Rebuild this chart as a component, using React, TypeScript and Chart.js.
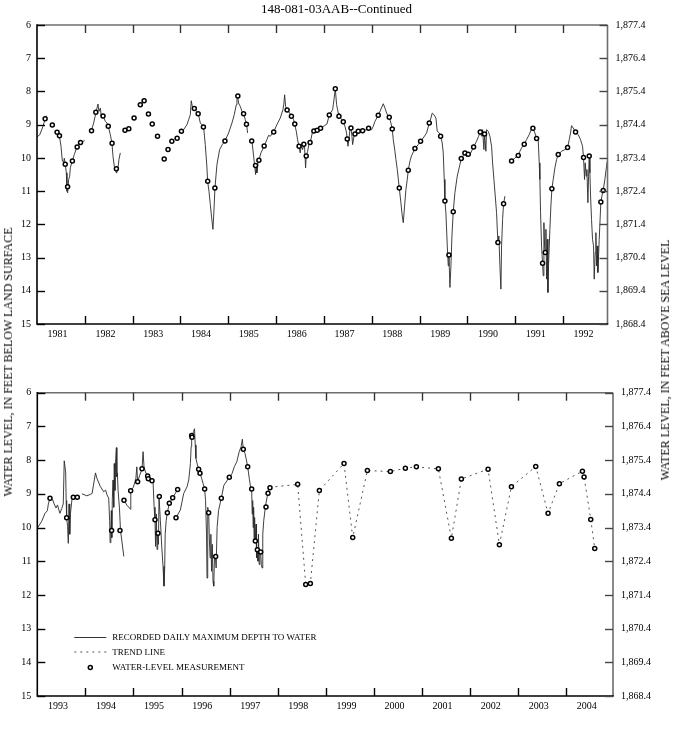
import React, { useEffect, useRef } from 'react';
import { Chart, registerables } from 'chart.js';
Chart.register(...registerables);

type P = [number, number];

// ---------- Top panel (1981-1992): recorded daily maximum depth to water ----------
const recTop1981a: P[] = [[1981.0, 9.37], [1981.06, 9.3], [1981.125, 9.05], [1981.17, 8.82], [1981.195, 8.73]];
const recTop1981b: P[] = [[1981.467, 9.33], [1981.502, 9.65], [1981.53, 10.1], [1981.557, 10.13], [1981.571, 10.01], [1981.592, 10.19], [1981.613, 10.45], [1981.627, 11.0], [1981.641, 11.05], [1981.662, 10.65], [1981.683, 10.55], [1981.697, 10.3], [1981.725, 10.15], [1981.739, 10.09], [1981.78, 9.9], [1981.836, 9.67], [1981.871, 9.6], [1981.913, 9.54], [1981.997, 9.48]];
const recTop1982: P[] = [[1982.136, 9.18], [1982.185, 8.95], [1982.233, 8.63], [1982.275, 8.38], [1982.296, 8.6], [1982.324, 8.5], [1982.345, 8.75], [1982.38, 8.74], [1982.429, 8.9], [1982.463, 8.95], [1982.491, 9.05], [1982.533, 9.3], [1982.568, 9.56], [1982.589, 9.95], [1982.617, 10.25], [1982.638, 10.35], [1982.659, 10.45], [1982.672, 10.33], [1982.693, 10.3], [1982.714, 10.05], [1982.742, 9.85]];
const recTop1984: P[] = [[1984.066, 9.15], [1984.136, 9.0], [1984.171, 8.85], [1984.206, 8.7], [1984.226, 8.28], [1984.247, 8.45], [1984.289, 8.51], [1984.331, 8.6], [1984.373, 8.67], [1984.415, 8.95], [1984.449, 9.0], [1984.484, 9.07], [1984.519, 9.6], [1984.554, 10.3], [1984.568, 10.7], [1984.596, 11.0], [1984.624, 11.4], [1984.652, 11.8], [1984.679, 12.15], [1984.7, 11.6], [1984.721, 10.91], [1984.763, 10.2], [1984.819, 9.75], [1984.875, 9.6], [1984.93, 9.49], [1985.007, 9.25], [1985.077, 8.95], [1985.125, 8.7], [1985.167, 8.4], [1985.181, 8.25], [1985.195, 8.14], [1985.216, 8.35], [1985.251, 8.45], [1985.286, 8.6], [1985.321, 8.67], [1985.355, 8.85], [1985.383, 8.99], [1985.404, 9.25]];
const recTop1985: P[] = [[1985.46, 9.45], [1985.495, 9.49], [1985.53, 9.95], [1985.557, 10.3], [1985.571, 10.5], [1985.585, 10.2], [1985.599, 10.45], [1985.62, 10.15], [1985.641, 10.07], [1985.683, 9.85], [1985.753, 9.64], [1985.808, 9.45], [1985.843, 9.32], [1985.878, 9.35], [1985.913, 9.28], [1985.948, 9.22], [1986.017, 9.0], [1986.087, 8.8], [1986.143, 8.55], [1986.164, 8.35], [1986.178, 8.1], [1986.199, 8.45], [1986.233, 8.56], [1986.282, 8.65], [1986.324, 8.75], [1986.366, 8.85], [1986.387, 8.98], [1986.422, 9.2], [1986.449, 9.45], [1986.477, 9.65], [1986.505, 9.85], [1986.526, 9.6], [1986.554, 9.75], [1986.582, 9.59], [1986.596, 9.7], [1986.617, 10.3], [1986.631, 9.94], [1986.659, 9.8], [1986.686, 9.6], [1986.714, 9.54], [1986.756, 9.25], [1986.791, 9.19], [1986.861, 9.17], [1986.93, 9.11], [1986.993, 9.05], [1987.063, 8.98]];
const recTop1987: P[] = [[1987.112, 8.71], [1987.182, 8.55], [1987.21, 8.25], [1987.238, 7.92], [1987.265, 8.4], [1987.3, 8.65], [1987.314, 8.75], [1987.349, 8.8], [1987.37, 8.85], [1987.405, 8.91], [1987.44, 9.05], [1987.474, 9.25], [1987.502, 9.65], [1987.523, 9.45], [1987.544, 9.15], [1987.565, 9.1], [1987.586, 9.35], [1987.6, 9.6], [1987.628, 9.35], [1987.649, 9.28], [1987.684, 9.22], [1987.718, 9.2], [1987.809, 9.18], [1987.893, 9.15], [1987.934, 9.11], [1987.997, 9.15], [1988.032, 9.05], [1988.067, 8.9], [1988.136, 8.72], [1988.241, 8.37], [1988.276, 8.5], [1988.311, 8.65], [1988.346, 8.75], [1988.366, 8.78], [1988.401, 8.95], [1988.429, 9.13], [1988.45, 9.45], [1988.485, 9.8], [1988.506, 10.05], [1988.534, 10.35], [1988.576, 10.91], [1988.61, 11.35], [1988.638, 11.75], [1988.659, 11.95], [1988.687, 11.45], [1988.715, 10.95], [1988.743, 10.65], [1988.764, 10.37], [1988.799, 10.1], [1988.833, 9.93], [1988.903, 9.72], [1988.973, 9.6]];
const recTop1989: P[] = [[1989.021, 9.5], [1989.077, 9.4], [1989.147, 9.25], [1989.203, 8.95], [1989.238, 8.8], [1989.265, 8.65], [1989.3, 8.7], [1989.342, 8.8], [1989.37, 9.2], [1989.412, 9.25], [1989.44, 9.35], [1989.474, 9.55], [1989.495, 9.85], [1989.516, 10.65], [1989.53, 11.3], [1989.551, 11.65], [1989.579, 12.65], [1989.6, 13.25], [1989.614, 12.92], [1989.635, 13.9], [1989.656, 13.25], [1989.677, 12.35], [1989.704, 11.62], [1989.739, 11.05], [1989.788, 10.55], [1989.844, 10.2], [1989.872, 10.02], [1989.914, 9.93], [1989.948, 9.85], [1989.983, 9.97]];
const recTop1990: P[] = [[1990.018, 9.89], [1990.053, 9.9], [1990.13, 9.67], [1990.192, 9.5], [1990.234, 9.35], [1990.269, 9.22], [1990.297, 9.35], [1990.318, 9.15], [1990.346, 9.75], [1990.359, 9.28], [1990.387, 9.8], [1990.401, 9.15], [1990.436, 9.2], [1990.471, 9.35], [1990.506, 9.65], [1990.527, 10.15], [1990.555, 10.65], [1990.583, 11.15], [1990.61, 11.65], [1990.638, 12.55], [1990.659, 12.35], [1990.68, 13.25], [1990.701, 13.95], [1990.715, 12.65], [1990.736, 11.85], [1990.757, 11.38], [1990.785, 11.15]];
const recTop1991: P[] = [[1990.889, 10.07], [1990.924, 10.09], [1990.959, 10.05], [1990.994, 10.0], [1991.063, 9.93], [1991.098, 9.8], [1991.133, 9.7], [1991.189, 9.59], [1991.237, 9.45], [1991.293, 9.3], [1991.335, 9.15], [1991.37, 9.11], [1991.412, 9.25], [1991.447, 9.42], [1991.481, 9.45], [1991.502, 10.15], [1991.516, 10.65], [1991.53, 11.65], [1991.551, 12.65], [1991.572, 13.17], [1991.586, 13.55], [1991.6, 11.95], [1991.614, 12.65], [1991.628, 12.85], [1991.642, 12.15], [1991.656, 13.65], [1991.67, 12.45], [1991.684, 14.05], [1991.697, 13.25], [1991.725, 12.15], [1991.746, 11.45], [1991.767, 10.93], [1991.795, 10.65], [1991.83, 10.3], [1991.865, 10.05], [1991.9, 9.9], [1991.969, 9.8]];
const recTop1992: P[] = [[1992.039, 9.75], [1992.095, 9.69], [1992.13, 9.45], [1992.157, 9.25], [1992.178, 9.03], [1992.213, 9.1], [1992.262, 9.22], [1992.318, 9.3], [1992.366, 9.45], [1992.408, 9.65], [1992.429, 9.99], [1992.45, 10.65], [1992.464, 10.15], [1992.485, 10.55], [1992.499, 10.35], [1992.52, 11.35], [1992.534, 10.55], [1992.548, 9.94], [1992.562, 10.45], [1992.576, 11.15], [1992.596, 11.85], [1992.617, 12.45], [1992.638, 12.65], [1992.652, 13.65], [1992.673, 12.85], [1992.687, 12.25], [1992.701, 13.25], [1992.715, 12.65], [1992.729, 13.45], [1992.757, 12.45], [1992.791, 11.33], [1992.826, 11.05], [1992.84, 10.98], [1992.875, 10.65], [1992.924, 10.1]];

// Top panel: water-level measurements
const measTop1981to1986: P[] = [[1981.17, 8.82], [1981.32, 9.01], [1981.42, 9.23], [1981.47, 9.33], [1981.59, 10.19], [1981.64, 10.87], [1981.74, 10.09], [1981.84, 9.67], [1981.91, 9.54], [1982.14, 9.18], [1982.23, 8.63], [1982.38, 8.74], [1982.49, 9.05], [1982.57, 9.56], [1982.66, 10.33], [1982.84, 9.17], [1982.92, 9.12], [1983.03, 8.8], [1983.16, 8.4], [1983.24, 8.28], [1983.33, 8.68], [1983.41, 8.98], [1983.52, 9.35], [1983.66, 10.03], [1983.74, 9.75], [1983.82, 9.5], [1983.93, 9.41], [1984.02, 9.2], [1984.29, 8.51], [1984.37, 8.67], [1984.48, 9.07], [1984.57, 10.7], [1984.72, 10.91], [1984.93, 9.49], [1985.2, 8.14], [1985.32, 8.67], [1985.38, 8.99], [1985.49, 9.49], [1985.57, 10.23], [1985.64, 10.07], [1985.75, 9.64], [1985.95, 9.22], [1986.23, 8.56], [1986.32, 8.75], [1986.39, 8.98], [1986.48, 9.65], [1986.58, 9.59], [1986.63, 9.94], [1986.71, 9.54], [1986.79, 9.19], [1986.86, 9.17], [1986.93, 9.11]];
const measTop1987to1992: P[] = [[1987.112, 8.71], [1987.238, 7.92], [1987.314, 8.75], [1987.405, 8.91], [1987.488, 9.43], [1987.565, 9.1], [1987.649, 9.28], [1987.718, 9.2], [1987.809, 9.18], [1987.934, 9.11], [1988.136, 8.72], [1988.366, 8.78], [1988.429, 9.13], [1988.576, 10.91], [1988.764, 10.37], [1988.903, 9.72], [1989.021, 9.5], [1989.203, 8.95], [1989.44, 9.35], [1989.53, 11.3], [1989.614, 12.92], [1989.704, 11.62], [1989.872, 10.02], [1989.948, 9.85], [1990.018, 9.89], [1990.13, 9.67], [1990.269, 9.22], [1990.359, 9.28], [1990.638, 12.55], [1990.757, 11.38], [1990.924, 10.09], [1991.063, 9.93], [1991.189, 9.59], [1991.37, 9.11], [1991.447, 9.42], [1991.572, 13.17], [1991.628, 12.85], [1991.767, 10.93], [1991.9, 9.9], [1992.095, 9.69], [1992.262, 9.22], [1992.429, 9.99], [1992.548, 9.94], [1992.791, 11.33], [1992.84, 10.98]];

// ---------- Bottom panel (1993-2004) ----------
const recBot1993: P[] = [[1993.0, 10.02], [1993.09, 9.82], [1993.16, 9.58], [1993.21, 9.5], [1993.23, 9.3], [1993.264, 9.13], [1993.32, 9.18], [1993.35, 9.3], [1993.39, 9.42], [1993.42, 9.33], [1993.45, 9.48], [1993.47, 9.58], [1993.51, 9.43], [1993.54, 9.3], [1993.56, 8.02], [1993.59, 8.35], [1993.6, 9.2], [1993.61, 9.71], [1993.63, 9.97], [1993.645, 10.47], [1993.66, 9.3], [1993.675, 10.2], [1993.69, 9.58], [1993.72, 9.18], [1993.749, 9.1], [1993.832, 9.1], [1993.845, 9.08]];
const recBot1994: P[] = [[1993.93, 9.0], [1994.03, 9.06], [1994.1, 9.02], [1994.14, 8.99], [1994.21, 8.38], [1994.24, 8.54], [1994.31, 8.78], [1994.38, 8.94], [1994.42, 8.89], [1994.45, 9.03], [1994.485, 9.13], [1994.505, 9.8], [1994.515, 10.45], [1994.53, 10.07], [1994.54, 9.5], [1994.55, 10.3], [1994.56, 9.18], [1994.575, 8.59], [1994.59, 9.4], [1994.6, 8.1], [1994.615, 8.9], [1994.63, 7.95], [1994.645, 7.63], [1994.655, 8.5], [1994.665, 8.39], [1994.68, 8.89], [1994.71, 9.45], [1994.73, 10.08], [1994.8, 10.86]];
const recBot1995: P[] = [[1994.803, 9.19], [1994.87, 9.35], [1994.94, 9.46], [1994.945, 8.91], [1995.0, 8.8], [1995.05, 8.55], [1995.07, 8.2], [1995.087, 8.64], [1995.13, 8.45], [1995.178, 8.27], [1995.2, 7.75], [1995.22, 8.2], [1995.25, 8.35], [1995.28, 8.44], [1995.295, 8.47], [1995.309, 8.55], [1995.35, 8.62], [1995.386, 8.61], [1995.41, 8.7], [1995.43, 9.4], [1995.448, 9.77], [1995.46, 10.56], [1995.475, 9.6], [1995.49, 10.65], [1995.505, 10.17], [1995.52, 10.5], [1995.532, 9.08], [1995.56, 9.8], [1995.59, 10.6], [1995.615, 11.15], [1995.635, 11.74], [1995.65, 11.2], [1995.66, 10.2], [1995.68, 9.8], [1995.705, 9.56], [1995.746, 9.28], [1995.816, 9.12], [1995.919, 8.87]];
const recBot1996: P[] = [[1995.885, 9.71], [1995.976, 9.48], [1996.045, 8.99], [1996.115, 8.79], [1996.15, 8.59], [1996.185, 8.1], [1996.2, 7.6], [1996.211, 7.27], [1996.218, 7.32], [1996.25, 7.15], [1996.27, 7.07], [1996.285, 7.55], [1996.3, 7.95], [1996.34, 8.2], [1996.356, 8.27], [1996.384, 8.39], [1996.42, 8.55], [1996.45, 8.7], [1996.481, 8.86], [1996.5, 9.2], [1996.52, 10.2], [1996.53, 11.5], [1996.545, 9.4], [1996.565, 9.56], [1996.58, 10.4], [1996.595, 10.9], [1996.61, 10.2], [1996.625, 11.3], [1996.64, 10.5], [1996.655, 11.6], [1996.67, 11.74], [1996.685, 10.9], [1996.704, 10.86], [1996.72, 11.2], [1996.74, 10.0], [1996.77, 9.5], [1996.8, 9.3], [1996.828, 9.13], [1996.88, 8.75], [1996.994, 8.51]];
const recBot1997: P[] = [[1997.05, 8.4], [1997.1, 8.19], [1997.15, 8.05], [1997.2, 7.75], [1997.24, 7.6], [1997.265, 7.38], [1997.285, 7.68], [1997.32, 7.8], [1997.35, 8.0], [1997.376, 8.2], [1997.41, 8.55], [1997.44, 8.84], [1997.459, 8.86], [1997.47, 9.6], [1997.48, 9.2], [1997.49, 10.0], [1997.5, 9.4], [1997.51, 10.4], [1997.52, 9.7], [1997.535, 10.4], [1997.55, 9.9], [1997.56, 10.9], [1997.577, 10.66], [1997.59, 11.0], [1997.6, 10.2], [1997.615, 11.1], [1997.63, 10.74], [1997.646, 10.73], [1997.66, 11.1], [1997.675, 11.2], [1997.69, 10.2], [1997.71, 9.8], [1997.745, 9.38], [1997.78, 9.1], [1997.799, 8.98], [1997.83, 8.81]];

const trendBot: P[] = [[1997.83, 8.81], [1998.416, 8.72], [1998.583, 11.69], [1998.68, 11.66], [1998.867, 8.9], [1999.38, 8.1], [1999.561, 10.3], [1999.866, 8.31], [2000.344, 8.34], [2000.656, 8.24], [2000.885, 8.2], [2001.343, 8.26], [2001.613, 10.32], [2001.821, 8.56], [2002.376, 8.27], [2002.612, 10.51], [2002.862, 8.79], [2003.368, 8.19], [2003.624, 9.58], [2003.86, 8.7], [2004.339, 8.33], [2004.373, 8.5], [2004.512, 9.76], [2004.595, 10.62]];

const measBot1993to1997: P[] = [[1993.264, 9.13], [1993.61, 9.71], [1993.749, 9.1], [1993.832, 9.1], [1994.546, 10.09], [1994.72, 10.09], [1994.803, 9.19], [1994.942, 8.91], [1995.087, 8.64], [1995.178, 8.26], [1995.295, 8.47], [1995.309, 8.55], [1995.386, 8.61], [1995.448, 9.77], [1995.51, 10.17], [1995.538, 9.08], [1995.705, 9.56], [1995.746, 9.28], [1995.816, 9.12], [1995.885, 9.71], [1995.919, 8.87], [1996.211, 7.27], [1996.218, 7.32], [1996.356, 8.27], [1996.384, 8.39], [1996.481, 8.86], [1996.564, 9.56], [1996.71, 10.86], [1996.828, 9.13], [1996.994, 8.51], [1997.285, 7.68], [1997.376, 8.2], [1997.459, 8.86], [1997.535, 10.4], [1997.577, 10.66], [1997.646, 10.73], [1997.757, 9.39], [1997.799, 8.98], [1997.84, 8.82]];
const measBot1998to2004: P[] = [[1998.416, 8.72], [1998.583, 11.69], [1998.68, 11.66], [1998.867, 8.9], [1999.38, 8.1], [1999.561, 10.3], [1999.866, 8.31], [2000.344, 8.34], [2000.656, 8.24], [2000.885, 8.2], [2001.343, 8.26], [2001.613, 10.32], [2001.821, 8.56], [2002.376, 8.27], [2002.612, 10.51], [2002.862, 8.79], [2003.368, 8.19], [2003.624, 9.58], [2003.86, 8.7], [2004.339, 8.33], [2004.373, 8.5], [2004.512, 9.76], [2004.595, 10.62]];

// Axis ticks / labels
const topYears = [1981, 1982, 1983, 1984, 1985, 1986, 1987, 1988, 1989, 1990, 1991, 1992];
const bottomYears = [1993, 1994, 1995, 1996, 1997, 1998, 1999, 2000, 2001, 2002, 2003, 2004];
const depthTicks = [6, 7, 8, 9, 10, 11, 12, 13, 14, 15];
const elevationTicks = [1868.4, 1869.4, 1870.4, 1871.4, 1872.4, 1873.4, 1874.4, 1875.4, 1876.4, 1877.4];
const legendLabels = ['RECORDED DAILY MAXIMUM DEPTH TO WATER', 'TREND LINE', 'WATER-LEVEL MEASUREMENT'];
const titleText = '148-081-03AAB--Continued';

const FONT = "'Liberation Serif', 'Times New Roman', serif";

function joinSegments(segs: P[][]) {
  const out: { x: number; y: number | null }[] = [];
  segs.forEach((s, i) => {
    if (i > 0) {
      const prev = segs[i - 1][segs[i - 1].length - 1][0];
      out.push({ x: (prev + s[0][0]) / 2, y: null });
    }
    s.forEach(([x, y]) => out.push({ x, y }));
  });
  return out;
}
const toXY = (a: P[]) => a.map(([x, y]) => ({ x, y }));

interface PanelSpec {
  years: number[];
  xMin: number;
  xMax: number;
  recorded: P[][];
  trend?: P[];
  measured: P[];
  width: number;
  height: number;
  padTop: number;
  leftW: number;
  rightW: number;
  bottomH: number;
  legend: boolean;
}

function makeFramePlugin(spec: PanelSpec) {
  return {
    id: 'frame',
    afterDraw(chart: any) {
      const { ctx, chartArea } = chart;
      const { left, right, top, bottom } = chartArea;
      const xs = chart.scales.x;
      const ys = chart.scales.y;
      const seg = (x1: number, y1: number, x2: number, y2: number) => {
        ctx.beginPath();
        ctx.moveTo(x1, y1);
        ctx.lineTo(x2, y2);
        ctx.stroke();
      };
      ctx.save();
      ctx.lineWidth = 1.6;
      ctx.strokeStyle = '#6e6e6e';
      seg(left, top, right, top);
      seg(right, top, right, bottom);
      ctx.strokeStyle = '#000';
      seg(left, top - 0.8, left, bottom + 0.8);
      seg(left, bottom, right + 0.8, bottom);
      ctx.lineWidth = 1.4;
      spec.years.slice(1).forEach((yr) => {
        const px = Math.round(xs.getPixelForValue(yr)) + 0.5;
        ctx.strokeStyle = '#000';
        seg(px, bottom, px, bottom - 8);
        ctx.strokeStyle = '#333';
        seg(px, top, px, top + 8);
      });
      depthTicks.forEach((d) => {
        const py = Math.round(ys.getPixelForValue(d)) + 0.5;
        ctx.strokeStyle = '#000';
        seg(left, py, left + 8, py);
        ctx.strokeStyle = '#444';
        seg(right - 8, py, right, py);
      });
      if (spec.legend) {
        const lx0 = left + 37;
        const lx1 = left + 69;
        const tx = left + 75;
        const rows = [bottom - 58.5, bottom - 44, bottom - 28.5];
        ctx.lineWidth = 1;
        ctx.strokeStyle = '#333';
        seg(lx0, rows[0], lx1, rows[0]);
        ctx.setLineDash([2, 4]);
        ctx.strokeStyle = '#555';
        seg(lx0, rows[1], lx1, rows[1]);
        ctx.setLineDash([]);
        ctx.beginPath();
        ctx.arc(left + 53, rows[2], 2, 0, Math.PI * 2);
        ctx.fillStyle = '#fff';
        ctx.fill();
        ctx.lineWidth = 1.5;
        ctx.strokeStyle = '#000';
        ctx.stroke();
        ctx.fillStyle = '#000';
        ctx.font = `9px ${FONT}`;
        ctx.textBaseline = 'middle';
        ctx.textAlign = 'left';
        legendLabels.forEach((t, i) => ctx.fillText(t, tx, rows[i] + 0.5));
      }
      ctx.restore();
    },
  };
}

function makeConfig(spec: PanelSpec): any {
  const tickFont = { family: FONT, size: 10 };
  const datasets: any[] = [
    {
      data: joinSegments(spec.recorded),
      showLine: true,
      borderColor: '#2a2a2a',
      borderWidth: 0.9,
      pointRadius: 0,
      spanGaps: false,
      order: 3,
    },
  ];
  if (spec.trend) {
    datasets.push({
      data: toXY(spec.trend),
      showLine: true,
      borderColor: '#555',
      borderWidth: 1,
      borderDash: [2, 4],
      pointRadius: 0,
      order: 2,
    });
  }
  datasets.push({
    data: toXY(spec.measured),
    showLine: false,
    pointRadius: 2,
    pointBorderWidth: 1.5,
    pointBorderColor: '#000',
    pointBackgroundColor: '#fff',
    pointStyle: 'circle',
    order: 1,
  });
  return {
    type: 'scatter',
    data: { datasets },
    options: {
      animation: false,
      responsive: false,
      maintainAspectRatio: false,
      events: [],
      layout: { padding: { top: spec.padTop, left: 0, right: 0, bottom: 0 } },
      plugins: { legend: { display: false }, tooltip: { enabled: false }, title: { display: false } },
      scales: {
        x: {
          type: 'linear',
          position: 'bottom',
          min: spec.xMin,
          max: spec.xMax,
          grid: { display: false, drawTicks: false },
          border: { display: false },
          ticks: {
            font: tickFont,
            color: '#000',
            padding: 4,
            maxRotation: 0,
            autoSkip: false,
            callback: (v: number) => String(Math.floor(v)),
          },
          afterBuildTicks: (s: any) => {
            s.ticks = spec.years.map((y) => ({ value: y + 0.43 }));
          },
          afterFit: (s: any) => {
            s.height = spec.bottomH;
          },
        },
        y: {
          type: 'linear',
          position: 'left',
          reverse: true,
          min: 6,
          max: 15,
          grid: { display: false, drawTicks: false },
          border: { display: false },
          ticks: { font: tickFont, color: '#000', padding: 6, autoSkip: false, callback: (v: number) => String(v) },
          afterBuildTicks: (s: any) => {
            s.ticks = depthTicks.map((v) => ({ value: v }));
          },
          afterFit: (s: any) => {
            s.width = spec.leftW;
          },
        },
        y2: {
          type: 'linear',
          position: 'right',
          min: elevationTicks[0],
          max: elevationTicks[elevationTicks.length - 1],
          grid: { display: false, drawTicks: false },
          border: { display: false },
          ticks: {
            font: tickFont,
            color: '#000',
            padding: 8,
            autoSkip: false,
            callback: (v: number) => v.toLocaleString('en-US', { minimumFractionDigits: 1, maximumFractionDigits: 1 }),
          },
          afterBuildTicks: (s: any) => {
            s.ticks = elevationTicks.map((v) => ({ value: v }));
          },
          afterFit: (s: any) => {
            s.width = spec.rightW;
          },
        },
      },
    },
    plugins: [makeFramePlugin(spec)],
  };
}

const topSpec: PanelSpec = {
  years: topYears,
  xMin: 1981.0,
  xMax: 1992.93,
  recorded: [recTop1981a, recTop1981b, recTop1982, recTop1984, recTop1985.concat(recTop1987, recTop1989, recTop1990), recTop1991.concat(recTop1992)],
  measured: measTop1981to1986.concat(measTop1987to1992),
  width: 673,
  height: 345,
  padTop: 25,
  leftW: 37,
  rightW: 65.5,
  bottomH: 21,
  legend: false,
};

const bottomSpec: PanelSpec = {
  years: bottomYears,
  xMin: 1993.0,
  xMax: 2004.975,
  recorded: [recBot1993, recBot1994, recBot1995, recBot1996.concat(recBot1997)],
  trend: trendBot,
  measured: measBot1993to1997.concat(measBot1998to2004),
  width: 673,
  height: 403,
  padTop: 47.7,
  leftW: 37.3,
  rightW: 60,
  bottomH: 52,
  legend: true,
};

function Panel({ spec, top }: { spec: PanelSpec; top: number }) {
  const ref = useRef<HTMLCanvasElement | null>(null);
  useEffect(() => {
    if (!ref.current) return;
    const chart = new Chart(ref.current, makeConfig(spec));
    return () => chart.destroy();
  }, [spec]);
  return (
    <canvas
      ref={ref}
      width={spec.width}
      height={spec.height}
      style={{ position: 'absolute', left: 0, top, width: spec.width, height: spec.height }}
    />
  );
}

export default function App() {
  const textBase: React.CSSProperties = { position: 'absolute', fontFamily: FONT, color: '#000', whiteSpace: 'nowrap' };
  return (
    <div style={{ position: 'absolute', left: 0, top: 0, width: 673, height: 748, background: '#fff', overflow: 'hidden' }}>
      <Panel spec={topSpec} top={0} />
      <Panel spec={bottomSpec} top={345} />
      <div style={{ ...textBase, left: 0, top: 1, width: 673, textAlign: 'center', fontSize: 13, lineHeight: '15px' }}>{titleText}</div>
      <div
        style={{
          ...textBase,
          left: 8,
          top: 362,
          fontSize: 12,
          lineHeight: '14px',
          transform: 'translate(-50%, -50%) rotate(-90deg)',
        }}
      >
        WATER LEVEL, IN FEET BELOW LAND SURFACE
      </div>
      <div
        style={{
          ...textBase,
          left: 665,
          top: 360,
          fontSize: 12,
          lineHeight: '14px',
          transform: 'translate(-50%, -50%) rotate(-90deg)',
        }}
      >
        WATER LEVEL, IN FEET ABOVE SEA LEVEL
      </div>
    </div>
  );
}
